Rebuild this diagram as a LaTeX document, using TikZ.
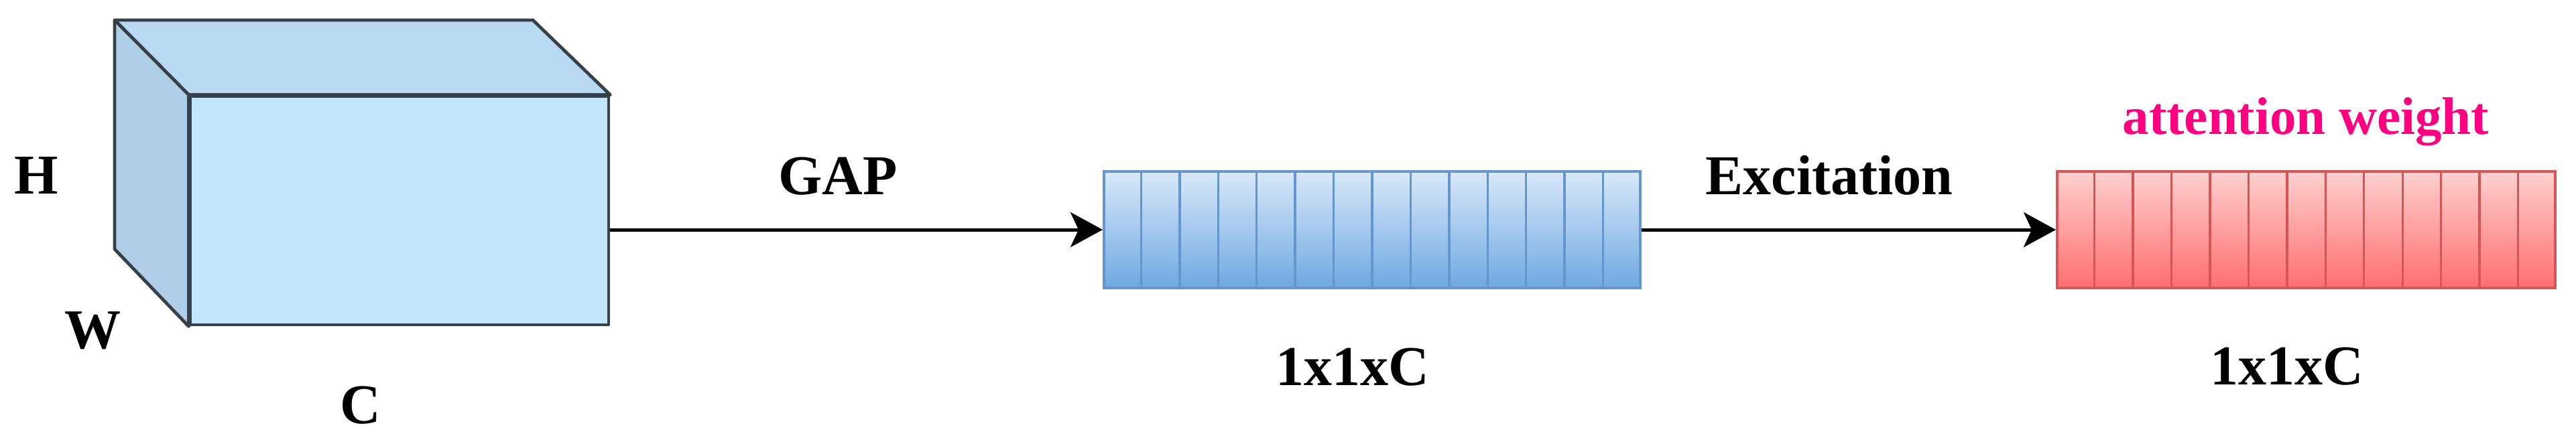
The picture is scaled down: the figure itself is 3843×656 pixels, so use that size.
\documentclass[tikz,border=0pt]{standalone}
\usepackage{fontspec}
\setmainfont{Liberation Serif}
\usetikzlibrary{arrows.meta,calc}
\definecolor{cubeline}{RGB}{54,64,72}
\definecolor{cubefront}{RGB}{194,229,252}
\definecolor{cubetop}{RGB}{184,217,242}
\definecolor{cubeside}{RGB}{176,206,232}
\definecolor{bluetop}{RGB}{216,233,251}
\definecolor{bluebot}{RGB}{111,168,224}
\definecolor{bluestroke}{RGB}{100,150,205}
\definecolor{redtop}{RGB}{255,208,208}
\definecolor{redbot}{RGB}{255,110,110}
\definecolor{redstroke}{RGB}{214,86,86}
\definecolor{attn}{RGB}{255,0,128}
\begin{document}
\begin{tikzpicture}[x=0.25pt,y=-0.25pt,
  lbl/.style={font=\fontsize{21}{25}\selectfont\bfseries, inner sep=0pt, anchor=base},
  arr/.style={line width=1.25pt, -{Stealth[length=12pt,width=13pt,inset=3pt]}},
  cubeedge/.style={draw=cubeline, line width=1.2pt, line join=round},
  barbox/.style={line width=1pt, minimum height=43.5pt, inner sep=0pt, shading angle=0},
  bluebar/.style={barbox, draw=bluestroke, top color=bluetop, bottom color=bluebot, minimum width=200pt},
  redbar/.style={barbox, draw=redstroke, top color=redtop, bottom color=redbot, minimum width=185.75pt},
  bluediv/.style={draw=bluestroke, line width=0.85pt},
  reddiv/.style={draw=redstroke, line width=0.85pt}]
\useasboundingbox (0,0) rectangle (3843,656);

% cube
\node[cubeedge, fill=cubefront, minimum width=156pt, minimum height=85.25pt, inner sep=0pt] (front) at (596,314.5) {};
\coordinate (btl) at (171,30);
\coordinate (btr) at (795,30);
\coordinate (bbl) at (171,372);
\filldraw[cubeedge, fill=cubetop] (btl) -- (btr) -- (front.north east) -- (front.north west) -- cycle;
\filldraw[cubeedge, fill=cubeside] (btl) -- (front.north west) -- (front.south west) -- (bbl) -- cycle;

\node[lbl] (H) at (54,289) {H};
\node[lbl] (W) at (138,520) {W};
\node[lbl] (C) at (538,632) {C};

% blue bar
\node[bluebar] (blue) at (2047,343) {};
\foreach \i in {1,...,13}
  \draw[bluediv] ($(blue.north west)!\i/14!(blue.north east)$) -- ($(blue.south west)!\i/14!(blue.south east)$);

% red bar
\node[redbar] (red) at (3440.5,343) {};
\foreach \i in {1,...,12}
  \draw[reddiv] ($(red.north west)!\i/13!(red.north east)$) -- ($(red.south west)!\i/13!(red.south east)$);

% arrows
\draw[arr] (blue.west -| front.east) -- (blue.west);
\draw[arr] (blue.east) -- (red.west);

% labels
\node[lbl] (gap) at (1250,290) {GAP};
\node[lbl] (exc) at (2729,290) {Excitation};
\node[lbl] (dim1) at (2018,575) {1x1xC};
\node[lbl] (dim2) at (3412,574) {1x1xC};
\node[lbl, text=attn, font=\fontsize{19.75}{24}\selectfont\bfseries] (aw) at (3440,200) {attention weight};
\end{tikzpicture}
\end{document}
